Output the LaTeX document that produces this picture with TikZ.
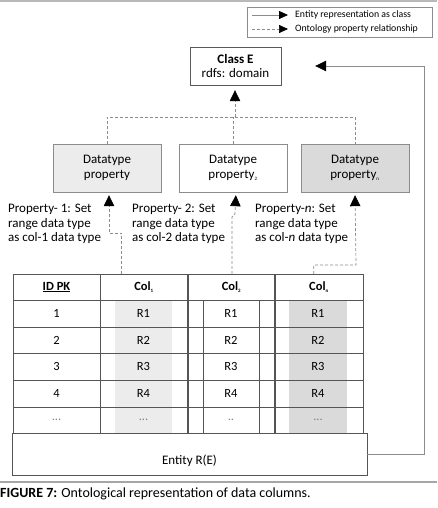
\documentclass[tikz,border=0pt]{standalone}
\usepackage{fontspec}
\setmainfont{Carlito}
\usetikzlibrary{arrows.meta,calc}
\definecolor{lgray}{HTML}{ECECEC}
\definecolor{mgray}{HTML}{DADADA}
\definecolor{lineg}{HTML}{8C8C8C}
\definecolor{tabline}{HTML}{555555}
\begin{document}
\begin{tikzpicture}[x=1pt,y=-1pt,
  every node/.style={font=\fontsize{13}{14.5}\selectfont, inner sep=0pt},
  dtbox/.style={draw=lineg, minimum width=108pt, minimum height=48pt, align=center},
  dep/.style={draw=lineg, dash pattern=on 3pt off 2pt, line width=0.7pt},
  sol/.style={draw=lineg, line width=0.8pt},
  tip/.style={-{Triangle[length=11pt,width=10.5pt,black]}},
  smalltip/.style={-{Triangle[length=9pt,width=8pt,black]}},
  hdr/.style={draw=tabline, minimum height=26pt, font=\fontsize{12.5}{13}\selectfont\bfseries},
  cell/.style={font=\fontsize{12.5}{13}\selectfont},
  lbl/.style={anchor=west, align=left},
  leg/.style={anchor=west, font=\fontsize{9.8}{11}\selectfont}
]
\useasboundingbox (0,0) rectangle (437,508);
% top bar and bottom rule
\fill[gray!55] (0,0) rectangle (437,2.5);
\draw[gray!70, line width=1.2pt] (0,482) -- (437,482);
\node[anchor=west, font=\fontsize{14}{16}\selectfont] (cap) at (0,494) {\textbf{FIGURE 7:} Ontological representation of data columns.};

% legend
\node[draw=lineg, minimum width=185pt, minimum height=30pt] (legbox) at (339.5,22) {};
\coordinate (l1a) at (252,15); \coordinate (l1b) at (288,15);
\coordinate (l2a) at (252,29); \coordinate (l2b) at (288,29);
\draw[sol, smalltip] (l1a) -- (l1b);
\draw[dep, smalltip] (l2a) -- (l2b);
\node[leg] (lt1) at (295,15) {Entity representation as class};
\node[leg] (lt2) at (295,29) {Ontology property relationship};

% class E
\node[draw=gray!70!black, minimum width=91pt, minimum height=38pt, align=center, font=\fontsize{13}{13.5}\selectfont] (ce) at (235.5,66) {\textbf{Class E}\\rdfs: domain};

% datatype boxes
\node[dtbox, fill=lgray] (dp1) at (107,168) {Datatype\\property};
\node[dtbox, fill=white] (dp2) at (233,168) {Datatype\\property\textsubscript{\tiny 2}};
\node[dtbox, fill=mgray] (dpn) at (355,168) {Datatype\\property\textsubscript{\tiny n}};

\coordinate (j) at (235,117);
\draw[dep] (dp1.north) |- (j) -| (dpn.north);
\draw[dep] (dp2.north) |- (j);
\draw[dep, tip, shorten >=5pt] (j) -- (j |- ce.south);

% labels
\node[lbl] (p1) at (8,224) {Property- 1: Set\\range data type\\as col-1 data type};
\node[lbl] (p2) at (132,224) {Property- 2: Set\\range data type\\as col-2 data type};
\node[lbl] (pn) at (255,224) {Property-\textit{n}: Set\\range data type\\as col-\textit{n} data type};

% table strips
\fill[lgray] (115,300) rectangle (172,433);
\fill[mgray] (289,300) rectangle (347,433);
% table grid
\foreach \yy in {327,353,380,407} \draw[tabline, line width=0.6pt] (13,\yy) -- (363,\yy);
\draw[tabline, line width=0.6pt] (203,433) -- (203,300) -- (259,300) -- (259,433);
\draw[tabline, line width=0.8pt] (13,274) rectangle (363,433);
\draw[tabline, line width=0.8pt] (13,300) -- (363,300);
\draw[tabline, line width=0.8pt] (100,274) -- (100,433);
\draw[tabline, line width=1.3pt] (188,274) -- (188,433);
\draw[tabline, line width=1.3pt] (275,274) -- (275,433);
% header cells
\node[hdr, minimum width=87pt] (h0) at (56.5,287) {\underline{ID PK}};
\node[hdr, minimum width=88pt] (h1) at (144,287) {Col\textsubscript{\tiny 1}};
\node[hdr, minimum width=87pt] (h2) at (231.5,287) {Col\textsubscript{\tiny 2}};
\node[hdr, minimum width=88pt] (hn) at (319,287) {Col\textsubscript{\tiny n}};
% cells
\foreach \t/\yy [count=\i] in {1/313,2/340,3/366.5,4/393}{
  \node[cell] (c0\i) at (56.5,\yy) {\t};
  \node[cell] (c1\i) at (143.5,\yy) {R\t};
  \node[cell] (c2\i) at (231,\yy) {R\t};
  \node[cell] (cn\i) at (318,\yy) {R\t};
}
\node[cell, text=gray] (c05) at (56.5,420) {...};
\node[cell, text=gray] (c15) at (143.5,420) {...};
\node[cell, text=gray] (c25) at (231,420) {..};
\node[cell, text=gray] (cn5) at (318,420) {...};

% entity
\node[draw=tabline, fill=white, minimum width=355pt, minimum height=42pt,
  label={[yshift=-7pt]center:Entity R(E)}] (ent) at (189.5,454) {};

% connectors from table
\draw[dep, tip, shorten >=3pt] ($(h1.north west)+(22,0)$) |- (109,233) -- (109,233 |- dp1.south);
\draw[dep, tip, shorten >=3pt] ($(h2.north)+(0.5,0)$) -- ++(0,-57) -- ++(3,-3) -- (236,0 |- dp2.south);
\draw[dep, tip, shorten >=3pt] ($(hn.north west)+(39,0)$) |- (356,265) -- (dpn.south);
% entity to class
\draw[sol, tip, shorten >=34pt] (ent.east) -| (424,66) -- (ce.east);
\end{tikzpicture}
\end{document}
